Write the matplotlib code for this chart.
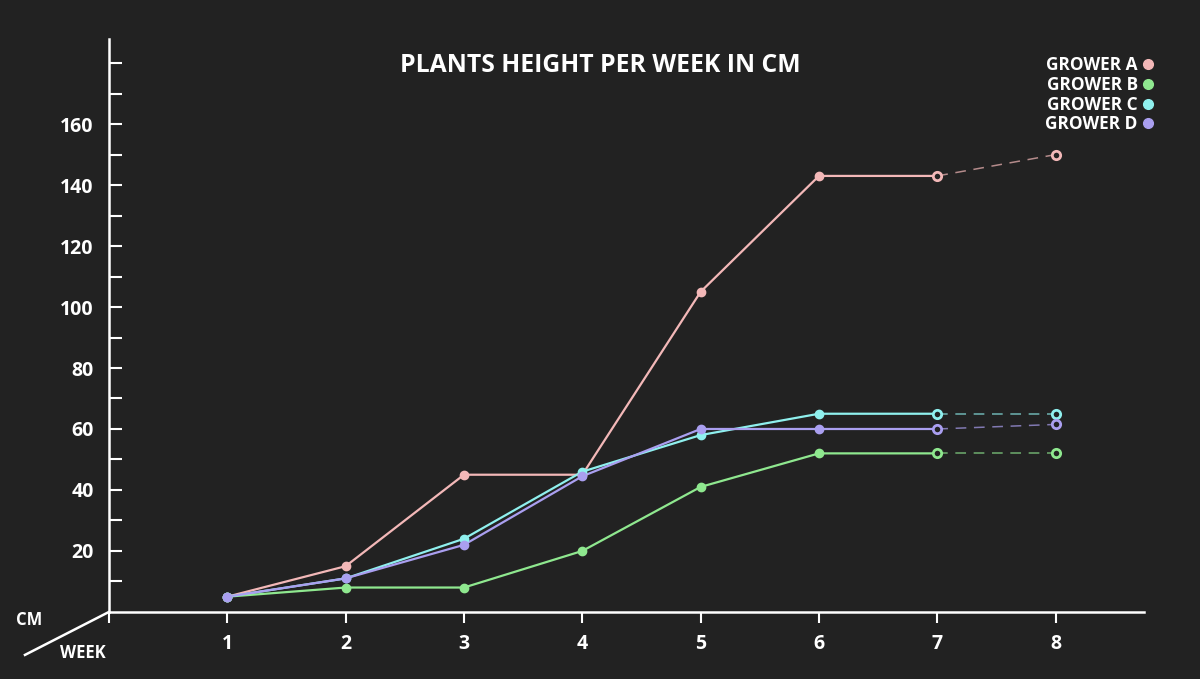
import matplotlib.pyplot as plt
from matplotlib.lines import Line2D

# Data
weeks = [1, 2, 3, 4, 5, 6, 7, 8]
grower_a = [5, 15, 45, 45, 105, 143, 143, 150]
grower_b = [5, 8, 8, 20, 41, 52, 52, 52]
grower_c = [5, 11, 24, 46, 58, 65, 65, 65]
grower_d = [5, 11, 22, 44.5, 60, 60, 60, 61.5]
names = ['GROWER A', 'GROWER B', 'GROWER C', 'GROWER D']
colors = ['#f3b8b8', '#8fe88f', '#8ff0ee', '#aa9ff0']
n_actual = 6  # weeks 7-8 are projections

bg = '#222222'
font = 'Open Sans'

fig = plt.figure(figsize=(12, 6.79), dpi=100, facecolor=bg)
ax = fig.add_axes([0, 0, 1, 1], facecolor=bg)
ax.set_xlim(-0.921, 9.22)
ax.set_ylim(-22.0, 200.7)

for vals, c in zip([grower_a, grower_b, grower_c, grower_d], colors):
    # measured weeks
    ax.plot(weeks[:n_actual + 1], vals[:n_actual + 1], color=c, lw=1.6, zorder=3)
    ax.plot(weeks[n_actual:], vals[n_actual:], color=c, lw=1.1, alpha=0.7,
            linestyle=(0, (7, 5)), zorder=3)
    ax.plot(weeks[:n_actual], vals[:n_actual], 'o', color=c, ms=6,
            mec=c, zorder=4)
    ax.plot(weeks[n_actual:], vals[n_actual:], 'o', color=bg, ms=6,
            mec=c, mew=2, zorder=4)

# Axes styling: chalk-like white axes
for s in ['top', 'right']:
    ax.spines[s].set_visible(False)
ax.spines['left'].set_position(('data', 0))
ax.spines['bottom'].set_position(('data', 0))
ax.spines['left'].set_bounds(0, 188)
ax.spines['bottom'].set_bounds(0, 8.75)
for s in ['left', 'bottom']:
    ax.spines[s].set_color('white')
    ax.spines[s].set_linewidth(1.8)

yt = list(range(10, 190, 10))
ax.set_yticks(yt)
ax.set_yticklabels([str(v) if v % 20 == 0 and v <= 160 else '' for v in yt])
ax.set_xticks(range(0, 9))
ax.set_xticklabels([''] + [str(w) for w in weeks])
ax.tick_params(axis='y', direction='in', length=9, width=1.5, color='white',
               pad=11, labelsize=14, labelcolor='white')
ax.tick_params(axis='x', direction='out', length=8, width=1.5, color='white',
               pad=8, labelsize=14, labelcolor='white')
for lab in ax.get_xticklabels() + ax.get_yticklabels():
    lab.set_fontfamily(font)
    lab.set_fontweight('bold')

# diagonal week axis and axis names
ax.plot([-0.71, 0], [-14.1, 0], color='white', lw=1.8, clip_on=False)
ax.text(-0.79, -2.5, 'CM', color='white', fontsize=12, fontweight='bold',
        family=font, ha='left', va='center')
ax.text(-0.41, -13.5, 'WEEK', color='white', fontsize=12, fontweight='bold',
        family=font, ha='left', va='center')

fig.text(0.5, 0.903, 'PLANTS HEIGHT PER WEEK IN CM', color='white',
         fontsize=17.8, fontweight='bold', family=font, ha='center', va='center')

handles = [Line2D([], [], marker='o', ls='', color=c, ms=7) for c in colors]
leg = ax.legend(handles, names, loc='upper right', bbox_to_anchor=(0.974, 0.94),
                bbox_transform=fig.transFigure, frameon=False, markerfirst=False,
                handlelength=0.6, handletextpad=0.3, labelspacing=0.1,
                prop={'family': font, 'weight': 'bold', 'size': 12.4})
for t in leg.get_texts():
    t.set_color('white')
    t.set_ha('right')

fig.savefig('out.png', dpi=100, facecolor=bg)
